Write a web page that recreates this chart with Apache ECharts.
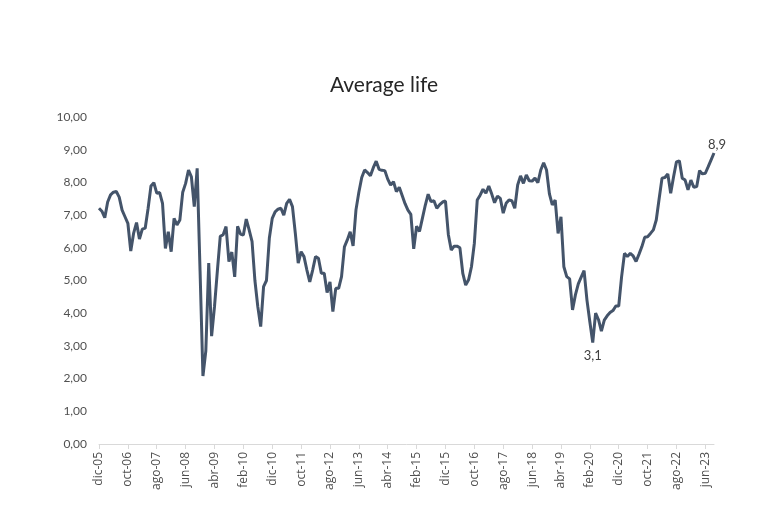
<!DOCTYPE html>
<html>
<head>
<meta charset="utf-8">
<script src="https://cdn.jsdelivr.net/npm/echarts@6/dist/echarts.min.js"></script>
<style>
html,body{margin:0;padding:0;background:#fff;}
#chart{width:768px;height:529px;}
</style>
</head>
<body>
<div id="chart"></div>
<script>
var monthNames = ['ene','feb','mar','abr','may','jun','jul','ago','sep','oct','nov','dic'];
var startMonth = 11, startYear = 2005; // dic-05
var values = [
7.21,7.12,6.92,7.40,7.62,7.70,7.72,7.55,7.15,6.95,
6.75,5.90,6.45,6.77,6.27,6.57,6.60,7.20,7.89,7.99,
7.67,7.69,7.36,5.98,6.49,5.88,6.90,6.70,6.85,7.70,
7.97,8.38,8.17,7.26,8.43,5.30,2.08,2.85,5.53,3.30,
4.20,5.30,6.35,6.40,6.65,5.58,5.87,5.11,6.66,6.42,
6.39,6.88,6.55,6.20,5.00,4.20,3.59,4.81,5.00,6.30,
6.90,7.10,7.18,7.21,7.00,7.36,7.48,7.26,6.44,5.53,
5.88,5.73,5.32,4.96,5.32,5.73,5.68,5.22,5.22,4.63,
4.96,4.05,4.76,4.76,5.12,6.03,6.24,6.49,6.06,7.16,
7.70,8.15,8.38,8.30,8.20,8.45,8.65,8.40,8.37,8.36,
8.10,7.92,8.02,7.72,7.85,7.60,7.35,7.15,7.02,5.97,
6.66,6.50,6.90,7.30,7.64,7.41,7.44,7.21,7.32,7.40,
7.43,6.40,5.93,6.05,6.05,6.00,5.22,4.86,5.02,5.42,
6.14,7.46,7.61,7.79,7.67,7.89,7.65,7.38,7.58,7.51,
7.06,7.36,7.46,7.44,7.21,7.92,8.20,7.97,8.23,8.05,
8.04,8.13,7.99,8.38,8.60,8.38,7.65,7.31,7.46,6.44,
6.95,5.42,5.12,5.05,4.10,4.56,4.90,5.10,5.30,4.40,
3.74,3.10,4.00,3.80,3.45,3.79,3.92,4.02,4.08,4.22,
4.22,5.12,5.83,5.73,5.83,5.75,5.58,5.80,6.03,6.32,
6.34,6.44,6.55,6.85,7.50,8.13,8.15,8.26,7.67,8.17,
8.63,8.66,8.13,8.07,7.77,8.07,7.85,7.87,8.36,8.26,
8.28,8.48,8.69,8.90
];
var labeledPoints = [
  {index: 171, text: '3,1', position: 'bottom'},
  {index: 213, text: '8,9', position: 'top'}
];

var categories = [];
for (var i = 0; i < values.length; i++) {
  var m = (startMonth + i) % 12;
  var y = startYear + Math.floor((startMonth + i) / 12);
  categories.push(monthNames[m] + '-' + String(y % 100).padStart(2, '0'));
}

var chart = echarts.init(document.getElementById('chart'));
chart.setOption({
  animation: false,
  title: {
    text: 'Average life',
    left: 'center',
    top: 70,
    textStyle: {fontFamily: 'Lato', fontSize: 21, fontWeight: 'normal', color: '#262626'}
  },
  grid: {left: 99, right: 54, top: 117, bottom: 85},
  xAxis: {
    type: 'category',
    data: categories,
    boundaryGap: false,
    axisLine: {lineStyle: {color: '#d9d9d9', width: 1}},
    axisTick: {show: true, interval: 9, length: 5, lineStyle: {color: '#d9d9d9'}},
    axisLabel: {
      interval: 9, rotate: 90, color: '#505050', fontSize: 12,
      fontFamily: 'Open Sans', margin: 8
    },
    splitLine: {show: false}
  },
  yAxis: {
    type: 'value',
    min: 0, max: 10, interval: 1,
    axisLine: {show: false},
    axisTick: {show: false},
    splitLine: {show: false},
    axisLabel: {
      color: '#505050', fontSize: 12, fontFamily: 'Lato', margin: 12,
      formatter: function (v) { return v.toFixed(2).replace('.', ','); }
    }
  },
  series: [{
    type: 'line',
    data: values,
    showSymbol: false,
    lineStyle: {color: '#44546a', width: 3},
    itemStyle: {color: '#44546a'},
    markPoint: {
      symbol: 'circle',
      symbolSize: 0,
      data: labeledPoints.map(function (p) {
        return {
          coord: [p.index, values[p.index]],
          label: {
            show: true,
            position: p.position,
            formatter: p.text,
            color: '#404040',
            fontSize: 13,
            fontFamily: 'Lato',
            distance: p.position === 'top' ? 2 : 7,
            offset: p.position === 'top' ? [3, 0] : [0, 0]
          }
        };
      })
    }
  }]
});
</script>
</body>
</html>
